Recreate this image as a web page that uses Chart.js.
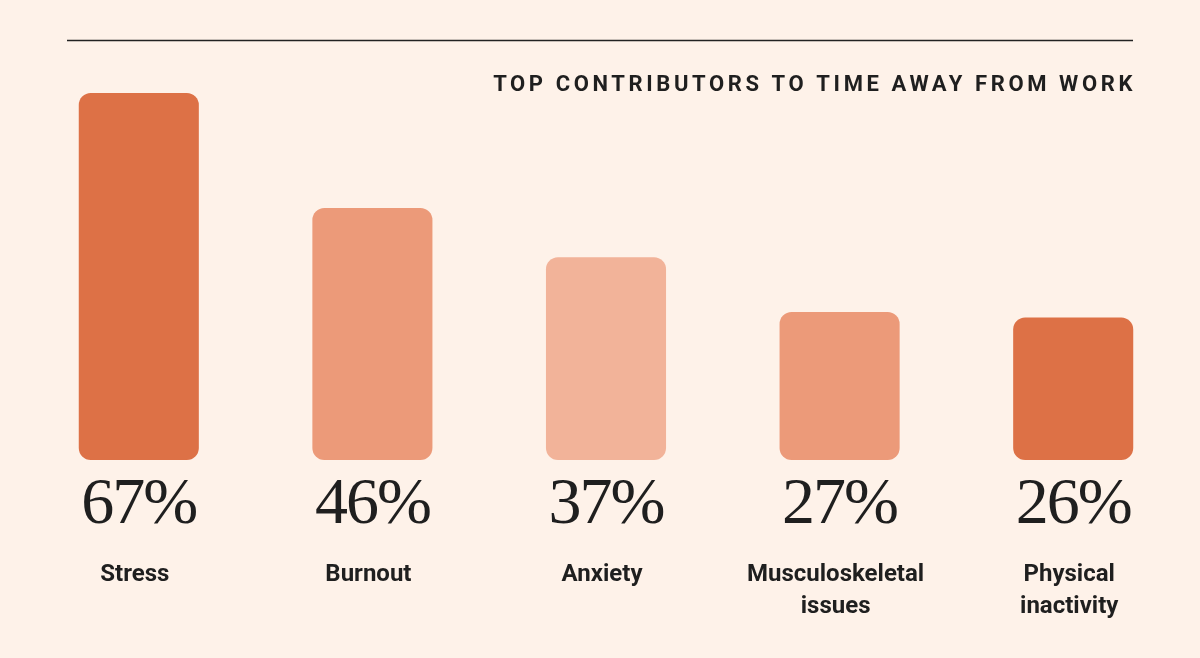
<!DOCTYPE html>
<html><head><meta charset="utf-8">
<script src="https://cdn.jsdelivr.net/npm/chart.js@4"></script>
<style>
html,body{margin:0;padding:0;background:#fef2e9;}
#wrap{position:relative;width:1200px;height:658px;}
</style></head>
<body><div id="wrap"><canvas id="c"></canvas></div>
<script>
const categories = [['Stress'], ['Burnout'], ['Anxiety'], ['Musculoskeletal', 'issues'], ['Physical', 'inactivity']];
const values = [67, 46, 37, 27, 26];
const barColors = ['#dd7146', '#ec9a79', '#f2b399', '#ec9a79', '#dd7146'];
const title = 'TOP CONTRIBUTORS TO TIME AWAY FROM WORK';

// texte: titre, ligne, pourcentages et catégories
const decor = {
  id: 'decor',
  afterDraw(chart) {
    const c = chart.ctx;
    const meta = chart.getDatasetMeta(0);
    c.save();
    c.strokeStyle = '#222';
    c.lineWidth = 1.5;
    c.beginPath(); c.moveTo(67, 40.5); c.lineTo(1133, 40.5); c.stroke();
    c.fillStyle = '#1f1f1f';
    c.font = 'bold 22px Roboto';
    c.letterSpacing = '3.6px';
    c.textAlign = 'right';
    c.textBaseline = 'alphabetic';
    c.fillText(title, 1136, 91);
    c.letterSpacing = '0px';
    c.textAlign = 'center';
    meta.data.forEach((bar, i) => {
      c.font = '66px "Liberation Serif"';
      c.letterSpacing = '-2px';
      c.fillText(values[i] + '%', bar.x, 523);
      c.letterSpacing = '0px';
      c.font = 'bold 24px Roboto';
      categories[i].forEach((line, j) => c.fillText(line, bar.x - 4, 581 + j * 32));
    });
    c.restore();
  }
};

new Chart(document.getElementById('c'), {
  type: 'bar',
  data: {
    labels: categories.map(l => l.join(' ')),
    datasets: [{
      data: values,
      backgroundColor: barColors,
      borderRadius: 12,
      borderSkipped: false,
      barPercentage: 0.514,
      categoryPercentage: 1
    }]
  },
  options: {
    responsive: true,
    maintainAspectRatio: false,
    animation: false,
    layout: { padding: { top: 93, bottom: 198, left: 22, right: 10 } },
    plugins: { legend: { display: false }, tooltip: { enabled: false } },
    scales: {
      x: { display: false },
      y: { display: false, min: 0, max: 67 }
    }
  },
  plugins: [decor]
});
</script></body></html>
